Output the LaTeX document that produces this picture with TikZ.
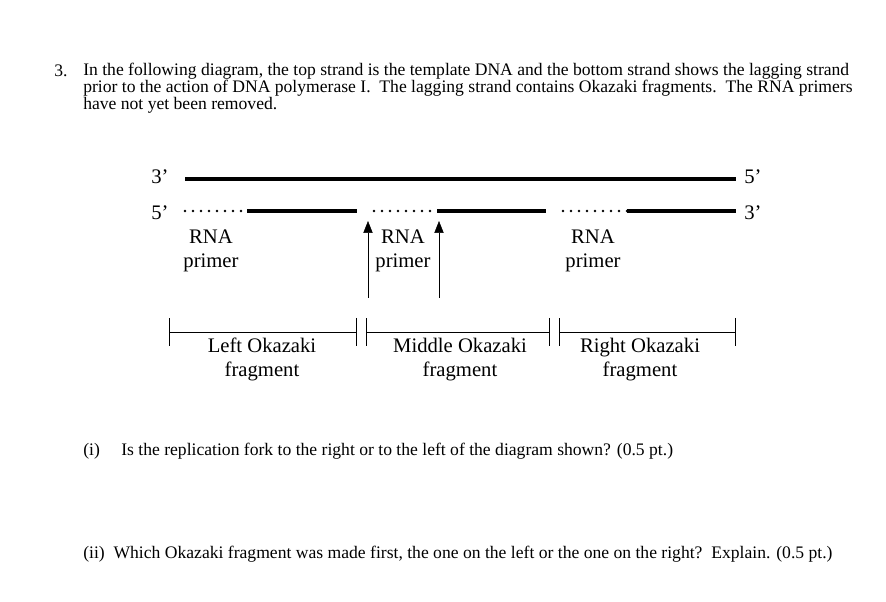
\documentclass[tikz,border=0pt]{standalone}
\usepackage{fontspec}
\setmainfont{Liberation Serif}
\usetikzlibrary{arrows.meta, positioning}

\begin{document}
\begin{tikzpicture}[
    x=0.75pt, y=-0.75pt,
    % Define strand styles
    strand/.style={line width=2.7pt},
    primer/.style={line width=2pt, line cap=round, dash pattern=on 0pt off 6pt},
    % Define text styles
    label style/.style={align=center, anchor=north, font=\fontsize{15.5}{18}\selectfont, inner sep=0pt},
    end style/.style={font=\fontsize{15.5}{18}\selectfont, inner sep=0pt},
    question/.style={anchor=west, font=\fontsize{13.2}{13}\selectfont, inner sep=0pt},
    bracket/.style={thin, arrows={Bar[width=21pt]-Bar[width=21pt]}},
    >={Triangle[length=9pt, width=7pt]}
  ]
  \useasboundingbox (0,0) rectangle (886,602);

  % Question text
  \node[question] (num) at (54,71) {3.};
  \node[question] (lineA) at (83,71) {In the following diagram, the top strand is the template DNA and the bottom strand shows the lagging strand};
  \node[question] (lineB) at (83,88) {prior to the action of DNA polymerase I.\ \ The lagging strand contains Okazaki fragments.\ \ The RNA primers};
  \node[question] (lineC) at (83,105) {have not yet been removed.};

  % Strand ends
  \node[end style] (top3) at (160,177) {3’};
  \node[end style] (top5) at (753,177) {5’};
  \node[end style] (bot5) at (160,213) {5’};
  \node[end style] (bot3) at (753,213) {3’};

  % Template strand
  \coordinate (tA) at (185,179);
  \coordinate (tB) at (736,179);
  \draw[strand] (tA) -- (tB);

  % Lagging strand: primers and fragments
  \foreach \p/\q/\r [count=\i] in {185/247/357, 374/437/546, 563/627/736}{
    \coordinate (p\i) at (\p,211);
    \coordinate (q\i) at (\q,211);
    \coordinate (r\i) at (\r,211);
    \draw[primer] (p\i) -- (q\i);
    \draw[strand] (q\i) -- (r\i);
  }

  % RNA primer labels
  \node[label style] (rnaL) at (211,230) {RNA\\primer};
  \node[label style] (rnaM) at (403,230) {RNA\\primer};
  \node[label style] (rnaR) at (593,230) {RNA\\primer};

  % Arrows to the middle fragment
  \coordinate (aL) at (368,298);
  \coordinate (aLt) at (368,221);
  \coordinate (aR) at (439,298);
  \coordinate (aRt) at (439,221);
  \draw[->, thin] (aL) -- (aLt);
  \draw[->, thin] (aR) -- (aRt);

  % Fragment brackets
  \coordinate (bL1) at (169,332); \coordinate (bL2) at (357,332);
  \coordinate (bM1) at (366,332); \coordinate (bM2) at (550,332);
  \coordinate (bR1) at (559,332); \coordinate (bR2) at (736,332);
  \draw[bracket] (bL1) -- (bL2);
  \draw[bracket] (bM1) -- (bM2);
  \draw[bracket] (bR1) -- (bR2);

  % Fragment labels
  \node[label style] (fragL) at (262,338) {Left Okazaki\\fragment};
  \node[label style] (fragM) at (460,338) {Middle Okazaki\\fragment};
  \node[label style] (fragR) at (640,338) {Right Okazaki\\fragment};

  % Sub-questions
  \node[question] (qi) at (83,451) {(i)};
  \node[question] (qiText) at (121,451) {Is the replication fork to the right or to the left of the diagram shown? (0.5 pt.)};
  \node[question] (qii) at (83,554) {(ii)\ \ Which Okazaki fragment was made first, the one on the left or the one on the right?\ \ Explain. (0.5 pt.)};

\end{tikzpicture}
\end{document}
